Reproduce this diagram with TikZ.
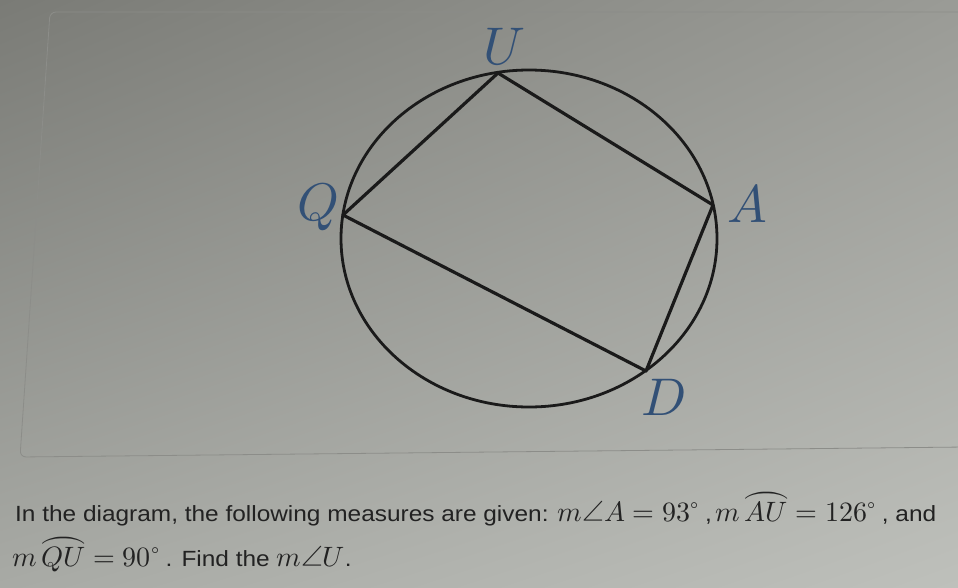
\documentclass[tikz,border=0pt]{standalone}
\usepackage{fontspec}
\usepackage{unicode-math}
\setmainfont{Liberation Sans}[FakeStretch=1.11]
\usepackage{tikz}
\usetikzlibrary{positioning, shadings}

\definecolor{labelblue}{RGB}{50,80,118}
\definecolor{inkblack}{RGB}{26,26,26}
\definecolor{textgrey}{RGB}{34,34,34}
\definecolor{boxline}{RGB}{140,141,137}
\definecolor{bgul}{RGB}{122,123,118}
\definecolor{bgur}{RGB}{154,155,150}
\definecolor{bgll}{RGB}{168,170,165}
\definecolor{bglr}{RGB}{190,192,187}

\newcommand{\mth}[1]{{\fontsize{28}{32}\selectfont$#1$}}

\begin{document}
\begin{tikzpicture}[x=1pt, y=-1pt,
    vertex/.style={font=\fontsize{53}{60}\selectfont, text=labelblue, inner sep=0pt},
    chord/.style={line width=3.2pt, draw=inkblack, line join=round},
    prose/.style={anchor=base west, inner sep=0pt, font=\fontsize{22}{26}\selectfont, text=textgrey}]
    % background of the photo
    \shade[upper left=bgul, upper right=bgur, lower left=bgll, lower right=bglr]
        (0,0) rectangle (958,587);
    \useasboundingbox (0,0) rectangle (958,587);
    \draw[boxline, line width=0.8pt, rounded corners=6] (965,12) -- (50,12) -- (20,457) -- (965,447);

    % circle and inscribed quadrilateral
    \coordinate (O) at (529,238.5);
    \coordinate (U) at (498,73);
    \coordinate (Q) at (343,215);
    \coordinate (A) at (713,205);
    \coordinate (D) at (646,371);
    \draw[inkblack, line width=2.8pt] (O) ellipse [x radius=188pt, y radius=168.5pt];
    \draw[chord] (U) -- (A) -- (D) -- (Q) -- cycle;

    \node[vertex] (labU) at (504,47)  {$U$};
    \node[vertex] (labQ) at (318,207) {$Q$};
    \node[vertex] (labA) at (747,204) {$A$};
    \node[vertex] (labD) at (664,397) {$D$};

    % question text
    \node[prose] (lineone) at (15,521)
        {In the diagram, the following measures are given: \mth{m\angle A = 93^{\circ}}\;,\,\mth{m\overparen{AU} = 126^{\circ}}\;, and};
    \node[prose] (linetwo) at (12,566)
        {\mth{m\overparen{QU} = 90^{\circ}}\;. Find the \mth{m\angle U}.};
\end{tikzpicture}
\end{document}
